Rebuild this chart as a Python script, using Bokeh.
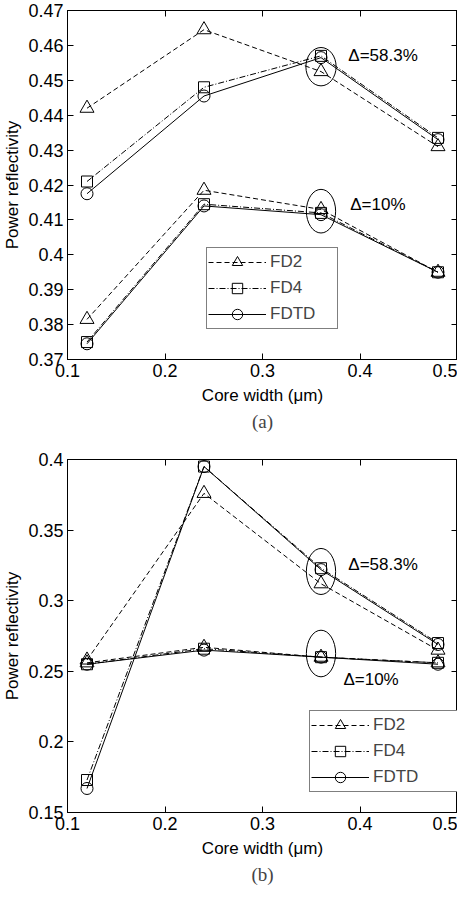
from bokeh.plotting import figure
from bokeh.layouts import column
from bokeh.models import Range1d, FixedTicker, LinearAxis, Title, Legend, CustomJSTickFormatter
from bokeh.core.properties import value
from bokeh.embed import file_html
from bokeh.resources import INLINE

core_width = [0.12, 0.24, 0.36, 0.48]

# (a) values, two groups per method
a_fd2_hi = [0.442, 0.4645, 0.4525, 0.431]
a_fd4_hi = [0.421, 0.448, 0.457, 0.4335]
a_fdtd_hi = [0.4175, 0.4455, 0.4565, 0.433]
a_fd2_lo = [0.3815, 0.4185, 0.413, 0.395]
a_fd4_lo = [0.375, 0.4145, 0.412, 0.395]
a_fdtd_lo = [0.3745, 0.414, 0.4115, 0.395]

# (b) values
b_fd2_hi = [0.258, 0.376, 0.312, 0.265]
b_fd4_hi = [0.173, 0.395, 0.323, 0.270]
b_fdtd_hi = [0.167, 0.395, 0.322, 0.269]
b_fd2_lo = [0.256, 0.267, 0.260, 0.256]
b_fd4_lo = [0.255, 0.266, 0.260, 0.256]
b_fdtd_lo = [0.255, 0.265, 0.260, 0.255]

# ellipse annotations: center x, center y, width, height
a_ell_x = [0.36, 0.36]
a_ell_y = [0.4539, 0.4125]
a_ell_w = [0.031, 0.03]
a_ell_h = [0.011, 0.0125]
b_ell_x = [0.36, 0.36]
b_ell_y = [0.3207, 0.2626]
b_ell_w = [0.03, 0.03]
b_ell_h = [0.0326, 0.033]

labels = ["\u0394=58.3%", "\u0394=10%"]
a_lab_x = [0.388, 0.39]
a_lab_y = [0.457, 0.4145]
b_lab_x = [0.388, 0.383]
b_lab_y = [0.3256, 0.2442]

x_ticks = [0.1, 0.2, 0.3, 0.4, 0.5]
a_ticks = [0.37, 0.38, 0.39, 0.40, 0.41, 0.42, 0.43, 0.44, 0.45, 0.46, 0.47]
a_tick_labels = ["0.37", "0.38", "0.39", "0.4", "0.41", "0.42", "0.43", "0.44", "0.45", "0.46", "0.47"]
b_ticks = [0.15, 0.2, 0.25, 0.3, 0.35, 0.4]
b_tick_labels = ["0.15", "0.2", "0.25", "0.3", "0.35", "0.4"]

FONT = "Liberation Sans"


def style_axis(ax, ticks, overrides, minor, show_labels=True):
    ax.ticker = FixedTicker(ticks=ticks, num_minor_ticks=minor)
    ax.major_tick_in = 6
    ax.major_tick_out = 0
    ax.minor_tick_in = 3
    ax.minor_tick_out = 0
    ax.axis_line_color = "black"
    ax.major_tick_line_color = "black"
    ax.minor_tick_line_color = "black"
    ax.major_label_text_font = FONT
    ax.major_label_text_font_size = "18px"
    ax.major_label_text_color = "black"
    ax.major_label_standoff = 4
    if overrides:
        ax.major_label_overrides = overrides
    if not show_labels:
        # mirror axis: ticks only
        ax.formatter = CustomJSTickFormatter(code="return ''")
        ax.major_label_text_font_size = "1px"
        ax.major_label_standoff = 0


def make_panel(ylo, yhi, yticks, ytick_labels, yminor, series, ell, labs, caption,
               frame_h, border_top, border_bottom, legend_loc, legend_label_w):
    p = figure(frame_width=390, frame_height=frame_h,
               x_range=Range1d(0.1, 0.5), y_range=Range1d(ylo, yhi),
               output_backend="svg", toolbar_location=None,
               min_border_left=62, min_border_right=0,
               min_border_top=border_top, min_border_bottom=border_bottom)
    p.xgrid.visible = False
    p.ygrid.visible = False
    p.outline_line_color = "black"
    p.background_fill_color = "white"
    p.border_fill_color = "white"

    style_axis(p.xaxis[0], x_ticks, {t: str(t) for t in x_ticks}, 10)
    style_axis(p.yaxis[0], yticks, dict(zip(yticks, ytick_labels)), yminor)
    p.xaxis.axis_label = "Core width (\u03bcm)"
    p.yaxis.axis_label = "Power reflectivity"
    for ax in (p.xaxis[0], p.yaxis[0]):
        ax.axis_label_text_font = FONT
        ax.axis_label_text_font_size = "17px"
        ax.axis_label_text_font_style = "normal"
        ax.axis_label_text_color = "black"
    p.xaxis[0].axis_label_standoff = 6
    p.yaxis[0].axis_label_standoff = 3

    top = LinearAxis()
    style_axis(top, x_ticks, None, 10, show_labels=False)
    p.add_layout(top, "above")
    right = LinearAxis()
    style_axis(right, yticks, None, yminor, show_labels=False)
    p.add_layout(right, "right")

    fd2_hi, fd4_hi, fdtd_hi, fd2_lo, fd4_lo, fdtd_lo = series
    items = []
    for hi, lo, name, dash, marker, size in [
        (fd2_hi, fd2_lo, "FD2", "5 3", "triangle", 14),
        (fd4_hi, fd4_lo, "FD4", "6 2 1 2", "square", 11),
        (fdtd_hi, fdtd_lo, "FDTD", "solid", "circle", 12),
    ]:
        rs = []
        for ys in (hi, lo):
            r1 = p.line(core_width, ys, line_color="black", line_width=1, line_dash=dash)
            r2 = p.scatter(core_width, ys, marker=marker, size=size, fill_color=None,
                           line_color="black", line_width=1)
            rs.append((r1, r2))
        items.append((name, list(rs[0])))

    ex, ey, ew, eh = ell
    p.ellipse(x=ex, y=ey, width=ew, height=eh, fill_color=None, line_color="black", line_width=1)

    lx, ly = labs
    p.text(x=lx, y=ly, text=labels, text_font=value(FONT), text_font_size="17px",
           text_baseline="middle", text_align="left", text_color="black")

    legend = Legend(items=items, location=legend_loc)
    legend.glyph_width = 58
    legend.glyph_height = 26
    legend.label_height = 26
    legend.label_width = legend_label_w
    legend.spacing = 0
    legend.padding = 1
    legend.margin = 0
    legend.label_standoff = 4
    legend.label_text_font = FONT
    legend.label_text_font_size = "17px"
    legend.border_line_color = "black"
    legend.border_line_width = 1
    legend.background_fill_alpha = 1
    p.add_layout(legend, "center")

    cap = Title(text=caption, align="center", text_font="Liberation Serif",
                text_font_size="19px", text_font_style="normal", standoff=2)
    p.add_layout(cap, "below")
    return p


pa = make_panel(0.37, 0.47, a_ticks, a_tick_labels, 5,
                (a_fd2_hi, a_fd4_hi, a_fdtd_hi, a_fd2_lo, a_fd4_lo, a_fdtd_lo),
                (a_ell_x, a_ell_y, a_ell_w, a_ell_h), (a_lab_x, a_lab_y), "(a)",
                349, 10, 88, (139, 30), 66)
pb = make_panel(0.15, 0.4, b_ticks, b_tick_labels, 10,
                (b_fd2_hi, b_fd4_hi, b_fdtd_hi, b_fd2_lo, b_fd4_lo, b_fdtd_lo),
                (b_ell_x, b_ell_y, b_ell_w, b_ell_h), (b_lab_x, b_lab_y), "(b)",
                353, 12, 60, (242, 20), 83)

layout = column(pa, pb, spacing=0)
open("out.html", "w").write(file_html(layout, INLINE))
